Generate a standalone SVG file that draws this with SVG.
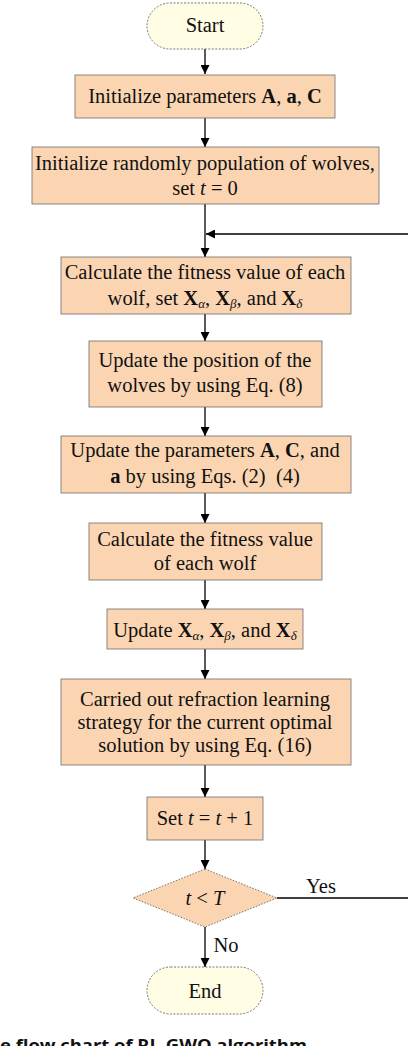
<svg xmlns="http://www.w3.org/2000/svg" width="408" height="1046" viewBox="0 0 408 1046">
<style>
.box{fill:#FBD5B2;stroke:#6b6b6b;stroke-width:0.8}
.term{fill:#FFFDE3;stroke:#555;stroke-width:0.8;stroke-dasharray:2 1.5}
.dia{fill:#FBD5B2;stroke:#555;stroke-width:0.8;stroke-dasharray:1.5 1.5}
text{font-family:"Liberation Serif","Times New Roman",serif;font-size:20.5px;fill:#111;text-anchor:middle}
.b{font-weight:bold}
.i{font-style:italic}
.sub{font-style:italic;font-size:13px}
.conn line,.conn path{stroke:#000;stroke-width:1.3;fill:none}
.cap{font-family:"Open Sans","Noto Sans",sans-serif;font-weight:bold;font-size:16px;text-anchor:start}
</style>
<defs>
<marker id="ah" viewBox="0 0 10 10" refX="10" refY="5" markerWidth="10" markerHeight="9" markerUnits="userSpaceOnUse" orient="auto">
<path d="M0,0 L10,5 L0,10 Z" fill="#000"/>
</marker>
</defs>
<g class="conn">
<line x1="205" y1="49" x2="205" y2="74" marker-end="url(#ah)"/>
<line x1="205" y1="118" x2="205" y2="147" marker-end="url(#ah)"/>
<line x1="205" y1="204" x2="205" y2="257" marker-end="url(#ah)"/>
<line x1="420" y1="234" x2="206" y2="234" marker-end="url(#ah)"/>
<line x1="205" y1="314" x2="205" y2="341" marker-end="url(#ah)"/>
<line x1="205" y1="407" x2="205" y2="436" marker-end="url(#ah)"/>
<line x1="205" y1="493" x2="205" y2="523" marker-end="url(#ah)"/>
<line x1="205" y1="580" x2="205" y2="609" marker-end="url(#ah)"/>
<line x1="205" y1="649" x2="205" y2="679" marker-end="url(#ah)"/>
<line x1="205" y1="765" x2="205" y2="797" marker-end="url(#ah)"/>
<line x1="205" y1="840" x2="205" y2="869" marker-end="url(#ah)"/>
<line x1="205" y1="927" x2="205" y2="967" marker-end="url(#ah)"/>
<line x1="277" y1="898" x2="420" y2="898"/>
<text x="321" y="893">Yes</text>
<text x="226" y="952">No</text>
</g>
<g id="start">
<rect class="term" x="147" y="3" width="116" height="46" rx="23" ry="23"/>
<text x="205" y="32">Start</text>
</g>
<g id="init-params">
<rect class="box" x="75" y="75" width="260" height="43"/>
<text x="205" y="103">Initialize parameters <tspan class="b">A</tspan>, <tspan class="b">a</tspan>, <tspan class="b">C</tspan></text>
</g>
<g id="init-pop">
<rect class="box" x="32" y="147" width="347" height="57"/>
<text x="205" y="170">Initialize randomly population of wolves,</text>
<text x="205" y="195">set <tspan class="i">t</tspan> = 0</text>
</g>
<g id="calc-fitness-set">
<rect class="box" x="61" y="257" width="290" height="57"/>
<text x="205" y="279">Calculate the fitness value of each</text>
<text x="205" y="305">wolf, set <tspan class="b">X</tspan><tspan class="sub" dy="3">α</tspan><tspan dy="-3">, </tspan><tspan class="b">X</tspan><tspan class="sub" dy="3">β</tspan><tspan dy="-3">, and </tspan><tspan class="b">X</tspan><tspan class="sub" dy="3">δ</tspan></text>
</g>
<g id="update-position">
<rect class="box" x="89" y="341" width="233" height="66"/>
<text x="205" y="367">Update the position of the</text>
<text x="205" y="392">wolves by using Eq. (8)</text>
</g>
<g id="update-params">
<rect class="box" x="61" y="436" width="290" height="57"/>
<text x="205" y="457">Update the parameters <tspan class="b">A</tspan>, <tspan class="b">C</tspan>, and</text>
<text x="205" y="483" xml:space="preserve"><tspan class="b">a</tspan> by using Eqs. (2)  (4)</text>
</g>
<g id="calc-fitness">
<rect class="box" x="89" y="523" width="233" height="57"/>
<text x="205" y="546">Calculate the fitness value</text>
<text x="205" y="570">of each wolf</text>
</g>
<g id="update-x">
<rect class="box" x="107" y="609" width="196" height="40"/>
<text x="205" y="637">Update <tspan class="b">X</tspan><tspan class="sub" dy="3">α</tspan><tspan dy="-3">, </tspan><tspan class="b">X</tspan><tspan class="sub" dy="3">β</tspan><tspan dy="-3">, and </tspan><tspan class="b">X</tspan><tspan class="sub" dy="3">δ</tspan></text>
</g>
<g id="refraction">
<rect class="box" x="61" y="679" width="290" height="86"/>
<text x="205" y="706">Carried out refraction learning</text>
<text x="205" y="729">strategy for the current optimal</text>
<text x="205" y="752">solution by using Eq. (16)</text>
</g>
<g id="increment">
<rect class="box" x="147" y="797" width="116" height="43"/>
<text x="205" y="825">Set <tspan class="i">t</tspan> = <tspan class="i">t</tspan> + 1</text>
</g>
<g id="decision">
<polygon class="dia" points="205,869 277,898 205,927 133,898"/>
<text x="205" y="905"><tspan class="i">t</tspan> &lt; <tspan class="i">T</tspan></text>
</g>
<g id="end">
<rect class="term" x="147" y="967" width="116" height="47" rx="23.5" ry="23.5"/>
<text x="205" y="998">End</text>
</g>
<text class="cap" x="0" y="1051" textLength="307" lengthAdjust="spacingAndGlyphs">e flow chart of RL-GWO algorithm</text>
</svg>
